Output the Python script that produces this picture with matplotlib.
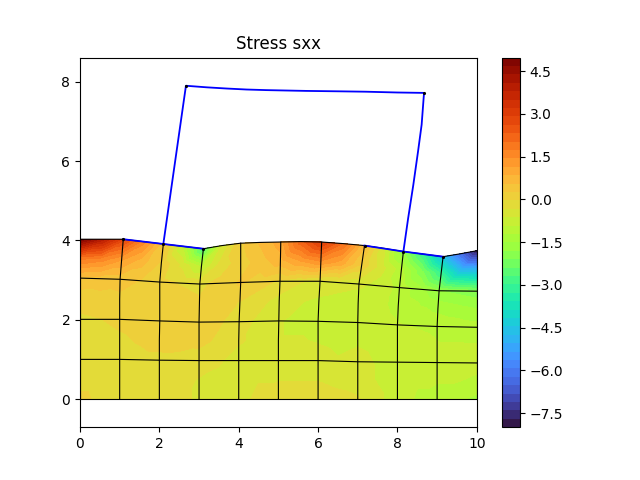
import numpy as np
from matplotlib import pyplot as plt
from matplotlib.tri import Triangulation

# mesh node coordinates, one row per y level (bottom to top), quadratic elements
x_nodes = [
    [0, .5, 1, 1.5, 2, 2.5, 3, 3.5, 4, 4.5, 5, 5.5, 6, 6.5, 7, 7.5, 8, 8.5, 9, 9.5, 10],
    [0, .5, 1, 1.5, 2, 2.5, 3, 3.5, 4, 4.5, 5, 5.5, 6, 6.5, 7, 7.5, 8, 8.5, 9, 9.5, 10],
    [0, .5, 1, 1.5, 2, 2.5, 3, 3.5, 4, 4.5, 5, 5.5, 6, 6.5, 7, 7.5, 8, 8.5, 9, 9.5, 10],
    [0, .5, 1, 1.5, 2, 2.5, 3, 3.5, 4, 4.5, 5, 5.5, 6, 6.5, 7, 7.5, 8, 8.5, 9, 9.5, 10],
    [0, .5, 1, 1.5, 2.01, 2.5, 3, 3.5, 4.01, 4.5, 5.01, 5.5, 6, 6.5, 7, 7.5, 8, 8.5, 9, 9.5, 10],
    [0, .5, 1, 1.5, 2.01, 2.51, 3.01, 3.52, 4.03, 4.53, 5.02, 5.53, 6.02, 6.52, 7.01, 7.52, 8.02, 8.52, 9.02, 9.51, 10],
    [0, .5, 1.01, 1.51, 2.01, 2.51, 3.02, 3.53, 4.05, 4.54, 5.04, 5.54, 6.05, 6.54, 7.03, 7.54, 8.05, 8.55, 9.05, 9.53, 10],
    [0, .53, 1.05, 1.55, 2.05, 2.56, 3.06, 3.55, 4.05, 4.55, 5.05, 5.56, 6.07, 6.58, 7.10, 7.6, 8.10, 8.6, 9.10, 9.55, 10],
    [0, .55, 1.09, 1.59, 2.10, 2.6, 3.11, 3.58, 4.05, 4.55, 5.06, 5.57, 6.09, 6.63, 7.17, 7.66, 8.15, 8.65, 9.15, 9.57, 10],
]
y_nodes = [
    [0] * 21,
    [.5, .5, .5, .5, .49, .49, .485, .485, .485, .485, .485, .485, .485, .47, .47, .47, .465, .46, .46, .46, .455],
    [1, 1, 1, .99, .98, .975, .97, .97, .97, .97, .97, .97, .97, .955, .94, .935, .93, .925, .92, .915, .91],
    [1.5, 1.5, 1.5, 1.49, 1.475, 1.465, 1.455, 1.455, 1.46, 1.465, 1.47, 1.47, 1.465, 1.45, 1.435, 1.42, 1.40, 1.385, 1.375, 1.37, 1.36],
    [2.01, 2.01, 2.01, 1.99, 1.97, 1.955, 1.94, 1.945, 1.95, 1.96, 1.97, 1.965, 1.96, 1.945, 1.93, 1.90, 1.87, 1.85, 1.83, 1.82, 1.81],
    [2.53, 2.52, 2.515, 2.49, 2.46, 2.44, 2.42, 2.43, 2.445, 2.455, 2.47, 2.465, 2.465, 2.44, 2.415, 2.38, 2.34, 2.31, 2.28, 2.27, 2.265],
    [3.05, 3.035, 3.02, 2.985, 2.95, 2.925, 2.90, 2.92, 2.94, 2.955, 2.97, 2.97, 2.97, 2.935, 2.90, 2.855, 2.81, 2.77, 2.73, 2.725, 2.72],
    [3.54, 3.53, 3.525, 3.48, 3.43, 3.39, 3.345, 3.38, 3.435, 3.45, 3.465, 3.465, 3.465, 3.43, 3.385, 3.325, 3.265, 3.21, 3.16, 3.19, 3.23],
    [4.03, 4.03, 4.03, 3.97, 3.91, 3.85, 3.79, 3.87, 3.93, 3.95, 3.96, 3.97, 3.96, 3.92, 3.87, 3.80, 3.72, 3.655, 3.59, 3.66, 3.74],
]
sxx = [
    [0.1, -0.15, -0.2, -0.2, -0.25, -0.3, -0.35, -0.45, -0.45, -0.25, -0.15, -0.1, -0.1, -0.2, -0.3, -0.55, -0.8, -0.95, -1.05, -1.15, -1.3],
    [-0.25, -0.25, -0.25, -0.25, -0.25, -0.25, -0.35, -0.4, -0.45, -0.35, -0.35, -0.35, -0.35, -0.45, -0.5, -0.65, -0.8, -0.9, -0.9, -0.9, -1.0],
    [-0.25, -0.25, -0.2, -0.15, -0.15, -0.2, -0.2, -0.3, -0.45, -0.4, -0.4, -0.4, -0.5, -0.6, -0.55, -0.65, -0.7, -0.75, -0.8, -0.8, -0.8],
    [-0.2, -0.2, -0.1, 0.0, 0.1, 0.15, 0.05, -0.1, -0.3, -0.4, -0.6, -0.6, -0.65, -0.7, -0.65, -0.7, -0.7, -0.8, -0.9, -0.9, -0.9],
    [-0.1, -0.05, 0.05, 0.1, 0.1, 0.15, 0.15, 0.0, -0.2, -0.4, -0.6, -0.7, -0.7, -0.8, -0.75, -0.8, -0.9, -0.95, -1.0, -1.05, -1.1],
    [0.1, 0.15, 0.2, 0.2, 0.1, 0.05, 0.0, 0.05, -0.05, -0.25, -0.45, -0.6, -0.7, -0.8, -0.8, -0.85, -1.0, -1.15, -1.3, -1.4, -1.5],
    [0.45, 0.4, 0.35, 0.25, 0.05, -0.05, -0.1, 0.05, 0.3, 0.1, -0.1, -0.3, -0.4, -0.45, -0.55, -0.75, -1.0, -1.4, -1.8, -1.9, -2.0],
    [1.8, 1.6, 1.2, 0.7, 0.2, -0.4, -1.0, -0.2, 0.1, 0.4, 0.7, 1.1, 1.4, 1.0, 0.2, -0.5, -1.1, -2.0, -3.0, -4.4, -4.7],
    [4.96, 4.0, 2.8, 1.6, 0.4, -1.0, -2.8, -0.6, 0.2, 0.6, 1.0, 2.2, 3.0, 2.0, 0.6, -0.6, -1.8, -3.0, -4.6, -6.2, -7.9],
]

# rigid block outline, bottom-left going clockwise
block_x = [2.10, 2.67, 3.2, 3.7, 4.2, 4.7, 5.2, 5.7, 6.5, 7.2, 8.0, 8.67, 8.61, 8.52, 8.40, 8.27, 8.15]
block_y = [3.91, 7.90, 7.86, 7.83, 7.805, 7.79, 7.78, 7.77, 7.76, 7.75, 7.73, 7.72, 6.92, 6.25, 5.40, 4.56, 3.72]
# contact segments sitting on top of the soil
contact_x = [[1.09, 2.10, 3.11], [7.17, 8.15, 9.15]]
contact_y = [[4.03, 3.91, 3.79], [3.87, 3.72, 3.59]]
# element corner nodes of the block and contact surfaces
corner_x = [2.67, 8.67, 1.09, 2.10, 3.11, 7.17, 8.15, 9.15]
corner_y = [7.90, 7.72, 4.03, 3.91, 3.79, 3.87, 3.72, 3.59]

cbar_ticks = [-7.5, -6.0, -4.5, -3.0, -1.5, 0.0, 1.5, 3.0, 4.5]

if __name__ == '__main__':
    x = np.array(x_nodes)
    y = np.array(y_nodes)
    s = np.array(sxx)
    n_rows, n_cols = x.shape

    # split each quad in two, delaunay would fill the dent in the top surface
    tris = []
    for j in range(n_rows - 1):
        for i in range(n_cols - 1):
            a = j * n_cols + i
            b = a + 1
            c = a + n_cols
            d = c + 1
            tris.append([a, b, d])
            tris.append([a, d, c])
    mesh = Triangulation(x.ravel(), y.ravel(), tris)

    fig, ax = plt.subplots(figsize=(6.4, 4.8), dpi=100)
    cf = ax.tricontourf(mesh, s.ravel(), levels=np.linspace(-7.99, 4.97, 45), cmap='turbo')
    cbar = fig.colorbar(cf)
    cbar.set_ticks(cbar_ticks)

    # element edges only, so every second row and column
    for j in range(0, n_rows, 2):
        ax.plot(x[j], y[j], 'k', lw=0.8)
    for i in range(0, n_cols, 2):
        ax.plot(x[:, i], y[:, i], 'k', lw=0.8)

    ax.plot(block_x, block_y, 'b', lw=1.3)
    for cx, cy in zip(contact_x, contact_y):
        ax.plot(cx, cy, 'b', lw=1.3)
    ax.plot(corner_x, corner_y, 'k.', ms=2.5)

    ax.set_xlim(0, 10)
    ax.set_ylim(-0.71, 8.61)
    ax.set_title("Stress sxx")
    plt.savefig("out.png", dpi=100)
